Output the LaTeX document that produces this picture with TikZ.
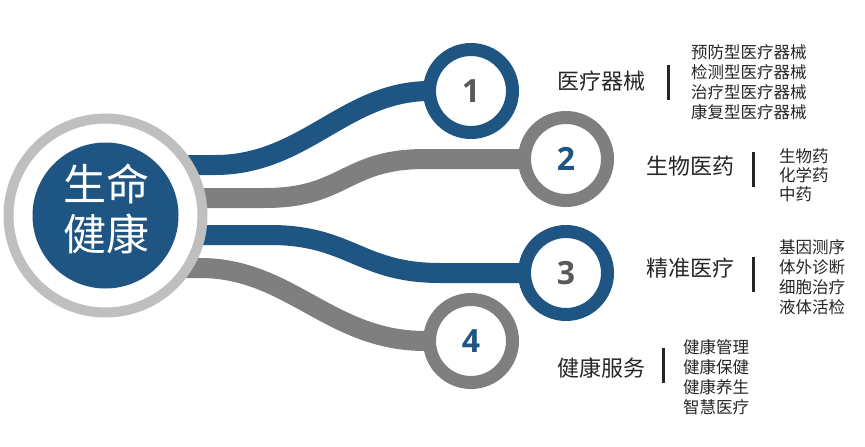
\documentclass[tikz,border=0pt]{standalone}
\usepackage{fontspec}
\newfontfamily\cjk{Noto Sans CJK SC}
\newfontfamily\numfont{Open Sans}
\usetikzlibrary{backgrounds}
\definecolor{mblue}{HTML}{1F5583}
\definecolor{mgray}{HTML}{7F7F7F}
\definecolor{rgray}{HTML}{BFBFBF}
\definecolor{ngray}{HTML}{595959}
\definecolor{tdark}{HTML}{262626}
\begin{document}
\begin{tikzpicture}[x=1pt,y=-1pt,
  ringnode/.style={circle, inner sep=0pt, minimum size=83pt, line width=13pt, fill=white,
    font=\numfont\bfseries\fontsize{32}{32}\selectfont},
  bluering/.style={ringnode, draw=mblue, text=ngray},
  grayring/.style={ringnode, draw=mgray, text=mblue},
  bluelink/.style={draw=mblue, line width=20pt},
  graylink/.style={draw=mgray, line width=20pt},
  titletext/.style={anchor=west, text=tdark, font=\cjk\fontsize{22}{26}\selectfont, inner sep=0pt},
  itemtext/.style={anchor=west, align=left, text=tdark, font=\cjk\fontsize{16.5}{20}\selectfont, inner sep=0pt},
  sepbar/.style={draw=tdark, line width=3pt}
]
\useasboundingbox (0,0) rectangle (865,447);
% hub
\node[circle, draw=rgray, line width=10pt, fill=white, minimum size=194pt, inner sep=0pt] (hub) at (105.5,215.5) {};
\node[circle, fill=mblue, minimum size=146pt, inner sep=0pt] (core) at (hub.center) {};
\node[text=white, align=center, font=\cjk\fontsize{43}{50}\selectfont, inner sep=0pt] (corelabel) at (106,209) {生命\\健康};
% numbered circles
\node[bluering] (c1) at (471,91) {1};
\node[grayring] (c2) at (566,159) {2};
\node[bluering] (c3) at (566,273) {3};
\node[grayring] (c4) at (471,341) {4};
% connectors
\begin{scope}[on background layer]
\coordinate (s1) at (150,165);
\coordinate (s2) at (150,198);
\coordinate (s3) at (150,235);
\coordinate (s4) at (150,268);
\draw[bluelink] (s1) -- (215,165) .. controls (305,165) and (345,91) .. (430,91) -- (c1.center);
\draw[graylink] (s2) -- (265,198) .. controls (345,198) and (345,159) .. (425,159) -- (c2.center);
\draw[bluelink] (s3) -- (270,235) .. controls (350,235) and (360,273) .. (440,273) -- (c3.center);
\draw[graylink] (s4) -- (200,268) .. controls (290,268) and (330,341) .. (425,341) -- (c4.center);
\end{scope}
% texts
\node[titletext] (t1) at (557,81) {医疗器械};
\draw[sepbar] (668,65) -- (668,100);
\node[itemtext] (l1) at (691,81.7) {预防型医疗器械\\检测型医疗器械\\治疗型医疗器械\\康复型医疗器械};
\node[titletext] (t2) at (646,166) {生物医药};
\draw[sepbar] (753,152) -- (753,187);
\node[itemtext, font=\cjk\fontsize{16.5}{19}\selectfont] (l2) at (779,175) {生物药\\化学药\\中药};
\node[titletext] (t3) at (646,268) {精准医疗};
\draw[sepbar] (753,257) -- (753,292);
\node[itemtext] (l3) at (779,277) {基因测序\\体外诊断\\细胞治疗\\液体活检};
\node[titletext] (t4) at (557,368) {健康服务};
\draw[sepbar] (663,348) -- (663,383);
\node[itemtext] (l4) at (683,377) {健康管理\\健康保健\\健康养生\\智慧医疗};
\end{tikzpicture}
\end{document}
